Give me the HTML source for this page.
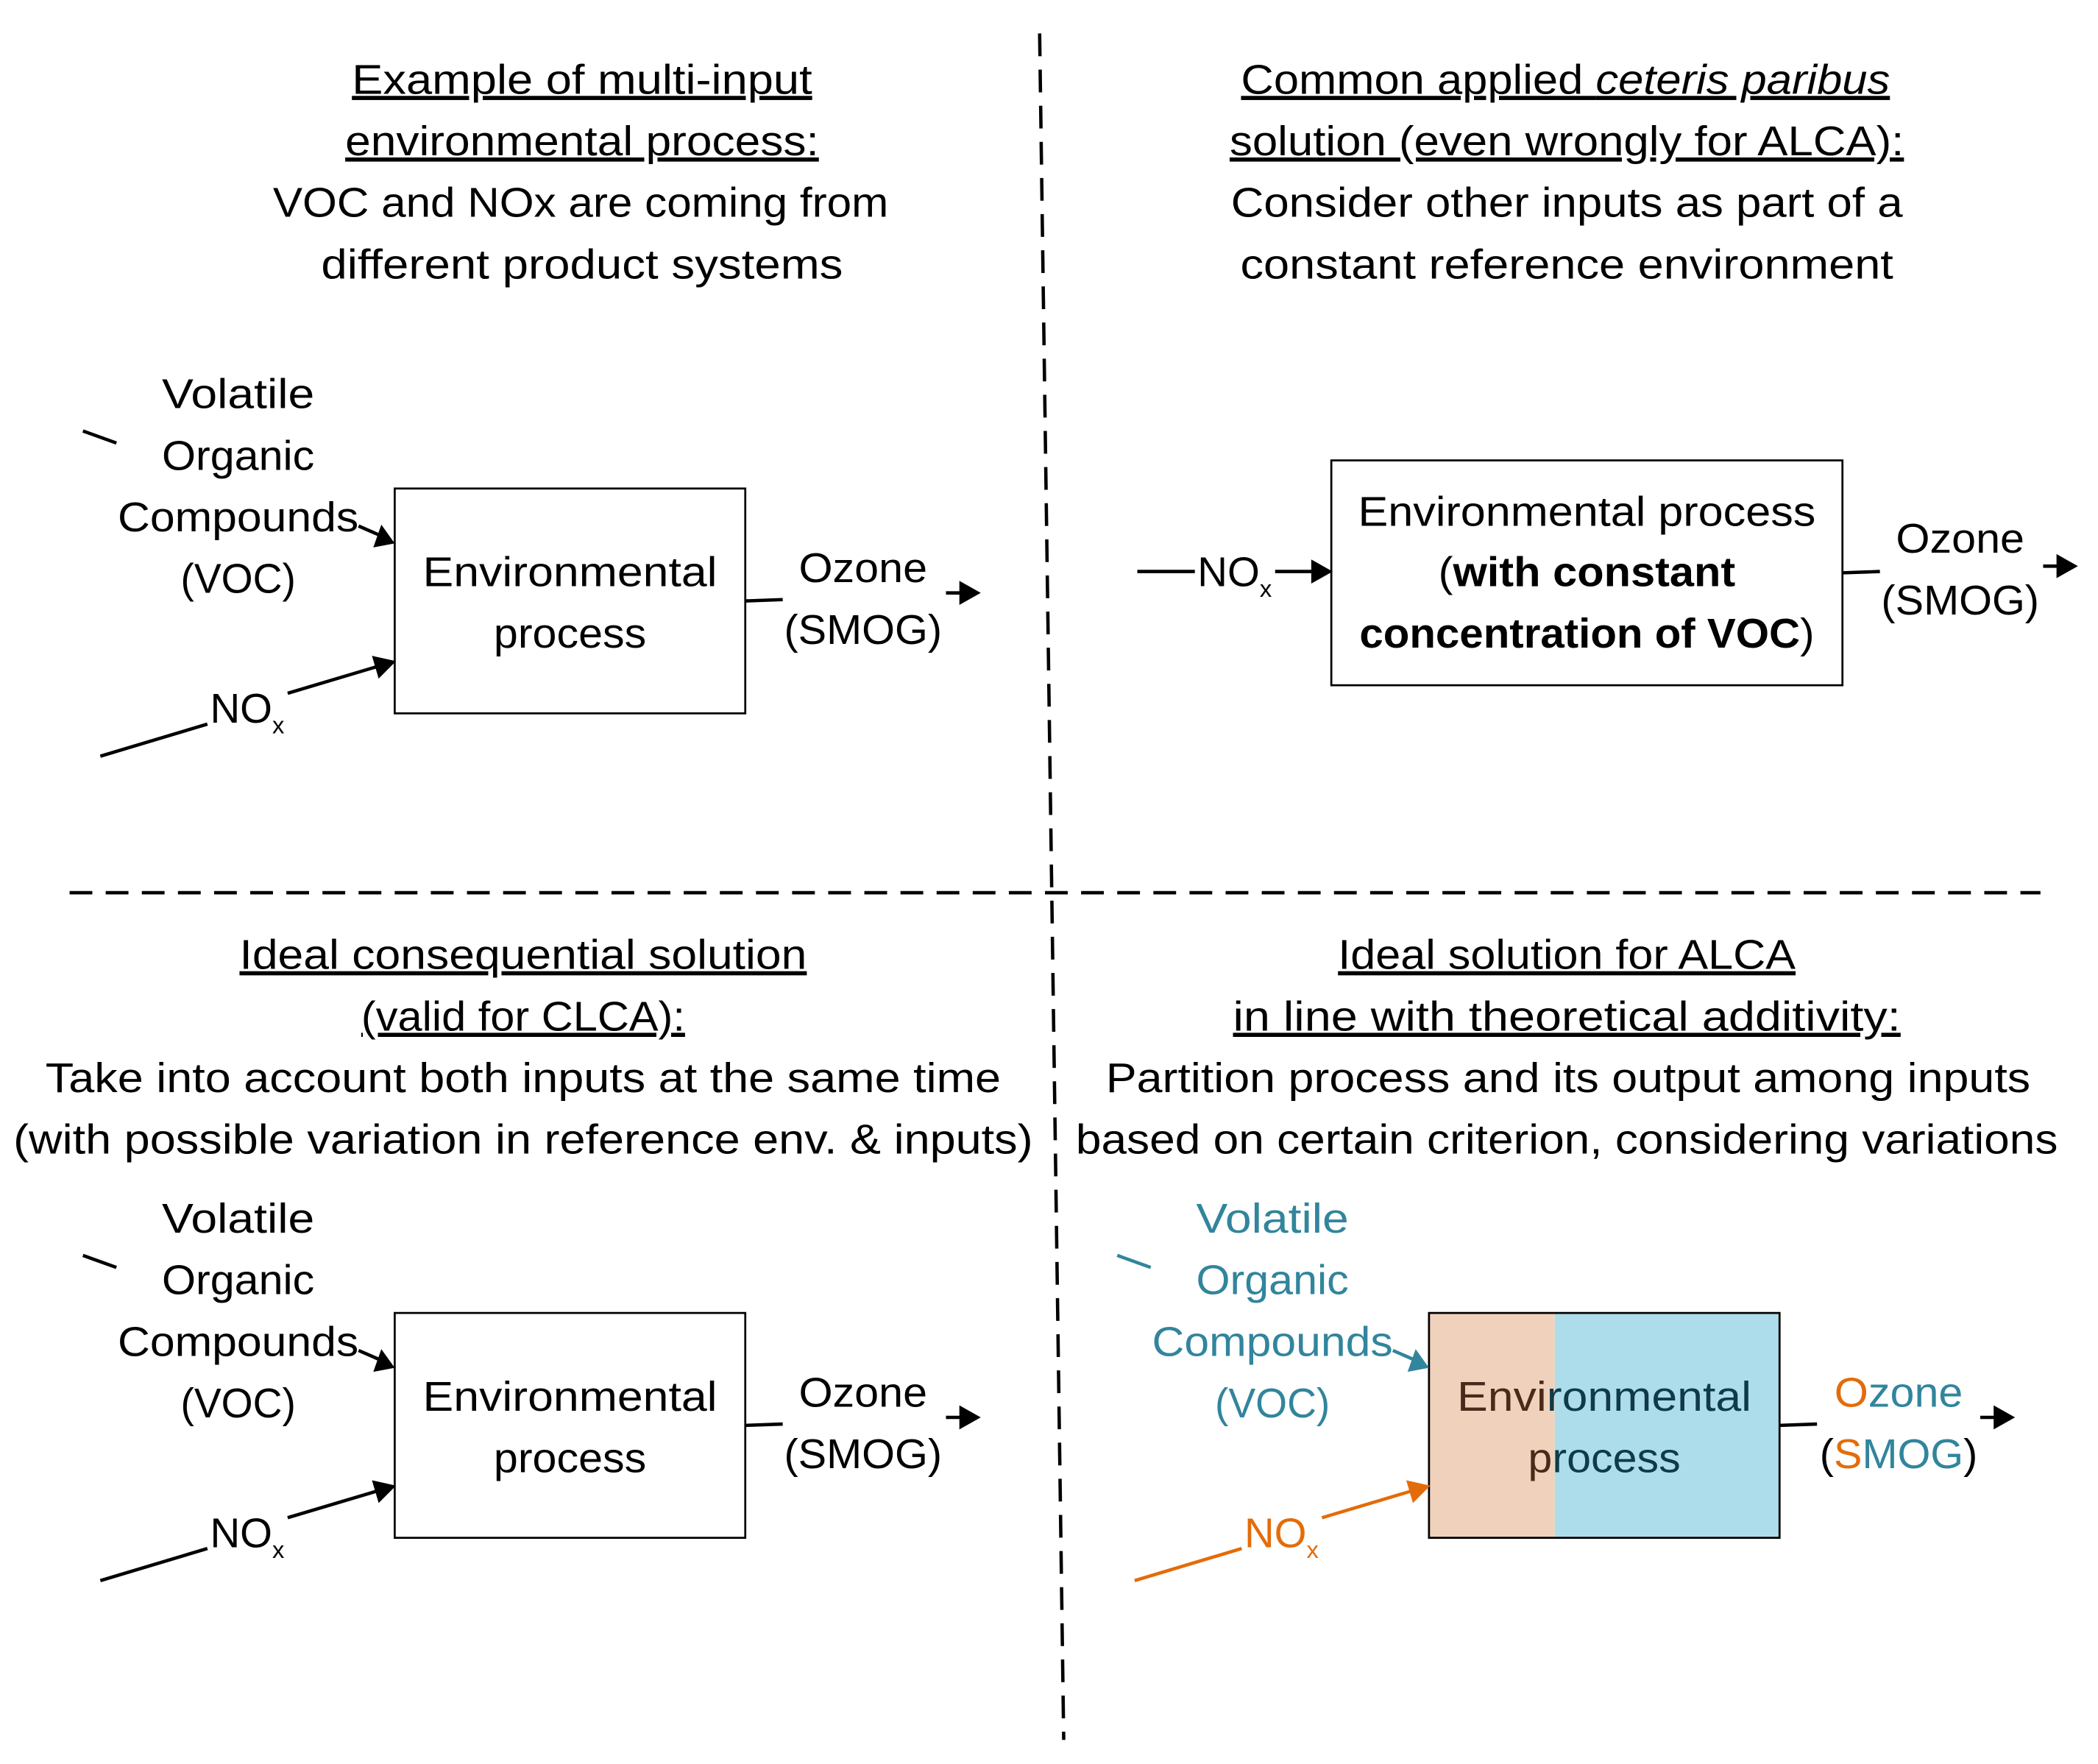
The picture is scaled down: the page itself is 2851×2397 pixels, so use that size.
<!DOCTYPE html>
<html><head><meta charset="utf-8"><style>
html,body{margin:0;padding:0;background:#fff;}
svg{display:block;}
text{font-family:"Liberation Sans",sans-serif;font-size:31px;}
.h{text-decoration:underline;}
</style></head><body>
<svg width="2851" height="2397" viewBox="0 0 1568 1318" preserveAspectRatio="none" xmlns="http://www.w3.org/2000/svg">
<!-- dividers -->
<line x1="777" y1="25" x2="795" y2="1300" stroke="#000" stroke-width="2.5" stroke-dasharray="17,10"/>
<line x1="52" y1="667" x2="1525" y2="667" stroke="#000" stroke-width="2.5" stroke-dasharray="17,10"/>

<g text-anchor="middle" style="fill:#000">
<text x="435" y="70" class="h" textLength="344" lengthAdjust="spacingAndGlyphs">Example of multi-input</text>
<text x="435" y="116" class="h" textLength="354" lengthAdjust="spacingAndGlyphs">environmental process:</text>
<text x="434" y="162" textLength="460" lengthAdjust="spacingAndGlyphs">VOC and NOx are coming from</text>
<text x="435" y="208" textLength="390" lengthAdjust="spacingAndGlyphs">different product systems</text>
<text x="1170" y="70" class="h" textLength="485" lengthAdjust="spacingAndGlyphs">Common applied <tspan font-style="italic">ceteris paribus</tspan></text>
<text x="1171" y="116" class="h" textLength="504" lengthAdjust="spacingAndGlyphs">solution (even wrongly for ALCA):</text>
<text x="1171" y="162" textLength="502" lengthAdjust="spacingAndGlyphs">Consider other inputs as part of a</text>
<text x="1171" y="208" textLength="488" lengthAdjust="spacingAndGlyphs">constant reference environment</text>
<text x="391" y="724" class="h" textLength="424" lengthAdjust="spacingAndGlyphs">Ideal consequential solution</text>
<text x="391" y="770" class="h" textLength="242" lengthAdjust="spacingAndGlyphs">(valid for CLCA):</text>
<text x="391" y="816" textLength="714" lengthAdjust="spacingAndGlyphs">Take into account both inputs at the same time</text>
<text x="391" y="862" textLength="762" lengthAdjust="spacingAndGlyphs">(with possible variation in reference env. &amp; inputs)</text>
<text x="1171" y="724" class="h" textLength="342" lengthAdjust="spacingAndGlyphs">Ideal solution for ALCA</text>
<text x="1171" y="770" class="h" textLength="499" lengthAdjust="spacingAndGlyphs">in line with theoretical additivity:</text>
<text x="1172" y="816" textLength="691" lengthAdjust="spacingAndGlyphs">Partition process and its output among inputs</text>
<text x="1171" y="862" textLength="734" lengthAdjust="spacingAndGlyphs">based on certain criterion, considering variations</text>
</g>

<g id="d1" style="fill:#000">
<g text-anchor="middle">
<text x="178" y="305" textLength="114" lengthAdjust="spacingAndGlyphs">Volatile</text>
<text x="178" y="351" textLength="114" lengthAdjust="spacingAndGlyphs">Organic</text>
<text x="178" y="397" textLength="180" lengthAdjust="spacingAndGlyphs">Compounds</text>
<text x="178" y="443" textLength="86" lengthAdjust="spacingAndGlyphs">(VOC)</text>
<text x="426" y="438" textLength="220" lengthAdjust="spacingAndGlyphs">Environmental</text>
<text x="426" y="484" textLength="114" lengthAdjust="spacingAndGlyphs">process</text>
<text x="645" y="435" textLength="96" lengthAdjust="spacingAndGlyphs">Ozone</text>
<text x="645" y="481" textLength="118" lengthAdjust="spacingAndGlyphs">(SMOG)</text>
</g>
<text x="157" y="540">NO<tspan font-size="18" dy="8">x</tspan></text>
<rect x="295" y="365" width="262" height="168" fill="none" stroke="#000" stroke-width="1.5"/>
<line x1="62" y1="322" x2="87" y2="331" stroke="#000" stroke-width="2.5"/>
<line x1="268" y1="393" x2="284" y2="400" stroke="#000" stroke-width="2.5"/>
<polygon points="295,406 279,409 285,392" fill="#000"/>
<line x1="75" y1="565" x2="155" y2="541" stroke="#000" stroke-width="2.5"/>
<line x1="215" y1="518" x2="282" y2="498" stroke="#000" stroke-width="2.5"/>
<polygon points="296,494 283,507 278,490" fill="#000"/>
<line x1="557" y1="449" x2="585" y2="448" stroke="#000" stroke-width="2.5"/>
<line x1="707" y1="443" x2="720" y2="443" stroke="#000" stroke-width="2.5"/>
<polygon points="733,443 717,434 717,452" fill="#000"/>
</g>
<use href="#d1" transform="translate(0,616)"/>

<!-- Q2 diagram -->
<line x1="850" y1="427" x2="893" y2="427" stroke="#000" stroke-width="2.5"/>
<text x="895" y="438" style="fill:#000">NO<tspan font-size="18" dy="8">x</tspan></text>
<line x1="953" y1="427" x2="982" y2="427" stroke="#000" stroke-width="2.5"/>
<polygon points="996,427 980,418 980,436" fill="#000"/>
<rect x="995" y="344" width="382" height="168" fill="none" stroke="#000" stroke-width="1.5"/>
<g text-anchor="middle" style="fill:#000">
<text x="1186" y="393" textLength="342" lengthAdjust="spacingAndGlyphs">Environmental process</text>
<text x="1186" y="438" textLength="222" lengthAdjust="spacingAndGlyphs">(<tspan font-weight="bold">with constant</tspan></text>
<text x="1186" y="484" textLength="340" lengthAdjust="spacingAndGlyphs"><tspan font-weight="bold">concentration of VOC</tspan>)</text>
<text x="1465" y="413" textLength="96" lengthAdjust="spacingAndGlyphs">Ozone</text>
<text x="1465" y="459" textLength="118" lengthAdjust="spacingAndGlyphs">(SMOG)</text>
</g>
<line x1="1377" y1="428" x2="1405" y2="427" stroke="#000" stroke-width="2.5"/>
<line x1="1527" y1="423" x2="1540" y2="423" stroke="#000" stroke-width="2.5"/>
<polygon points="1553,423 1537,414 1537,432" fill="#000"/>

<!-- Q4 diagram -->
<rect x="1068" y="981" width="94" height="168" fill="#F0D2BC"/>
<rect x="1162" y="981" width="168" height="168" fill="#ADDCEB"/>
<rect x="1068" y="981" width="262" height="168" fill="none" stroke="#000" stroke-width="1.5"/>
<g text-anchor="middle">
<text x="951" y="921" style="fill:#31859C" textLength="114" lengthAdjust="spacingAndGlyphs">Volatile</text>
<text x="951" y="967" style="fill:#31859C" textLength="114" lengthAdjust="spacingAndGlyphs">Organic</text>
<text x="951" y="1013" style="fill:#31859C" textLength="180" lengthAdjust="spacingAndGlyphs">Compounds</text>
<text x="951" y="1059" style="fill:#31859C" textLength="86" lengthAdjust="spacingAndGlyphs">(VOC)</text>
<text x="1199" y="1054" textLength="220" lengthAdjust="spacingAndGlyphs" style="fill:#0F3A4A"><tspan style="fill:#4A2A1A">Envi</tspan>ronmental</text>
<text x="1199" y="1100" textLength="114" lengthAdjust="spacingAndGlyphs" style="fill:#0F3A4A"><tspan style="fill:#4A2A1A">p</tspan>rocess</text>
<text x="1419" y="1051" textLength="96" lengthAdjust="spacingAndGlyphs" style="fill:#31859C"><tspan style="fill:#E36C0A">O</tspan>zone</text>
<text x="1419" y="1097" textLength="118" lengthAdjust="spacingAndGlyphs" style="fill:#31859C"><tspan style="fill:#000">(</tspan><tspan style="fill:#E36C0A">S</tspan>MOG<tspan style="fill:#000">)</tspan></text>
</g>
<text x="930" y="1156" style="fill:#E36C0A">NO<tspan font-size="18" dy="8">x</tspan></text>
<line x1="835" y1="938" x2="860" y2="947" stroke="#31859C" stroke-width="2.5"/>
<line x1="1041" y1="1009" x2="1057" y2="1016" stroke="#31859C" stroke-width="2.5"/>
<polygon points="1068,1022 1052,1025 1058,1008" fill="#31859C"/>
<line x1="848" y1="1181" x2="928" y2="1157" stroke="#E36C0A" stroke-width="2.5"/>
<line x1="988" y1="1134" x2="1055" y2="1114" stroke="#E36C0A" stroke-width="2.5"/>
<polygon points="1069,1110 1056,1123 1051,1106" fill="#E36C0A"/>
<line x1="1330" y1="1065" x2="1358" y2="1064" stroke="#000" stroke-width="2.5"/>
<line x1="1480" y1="1059" x2="1493" y2="1059" stroke="#000" stroke-width="2.5"/>
<polygon points="1506,1059 1490,1050 1490,1068" fill="#000"/>
</svg>
</body></html>
